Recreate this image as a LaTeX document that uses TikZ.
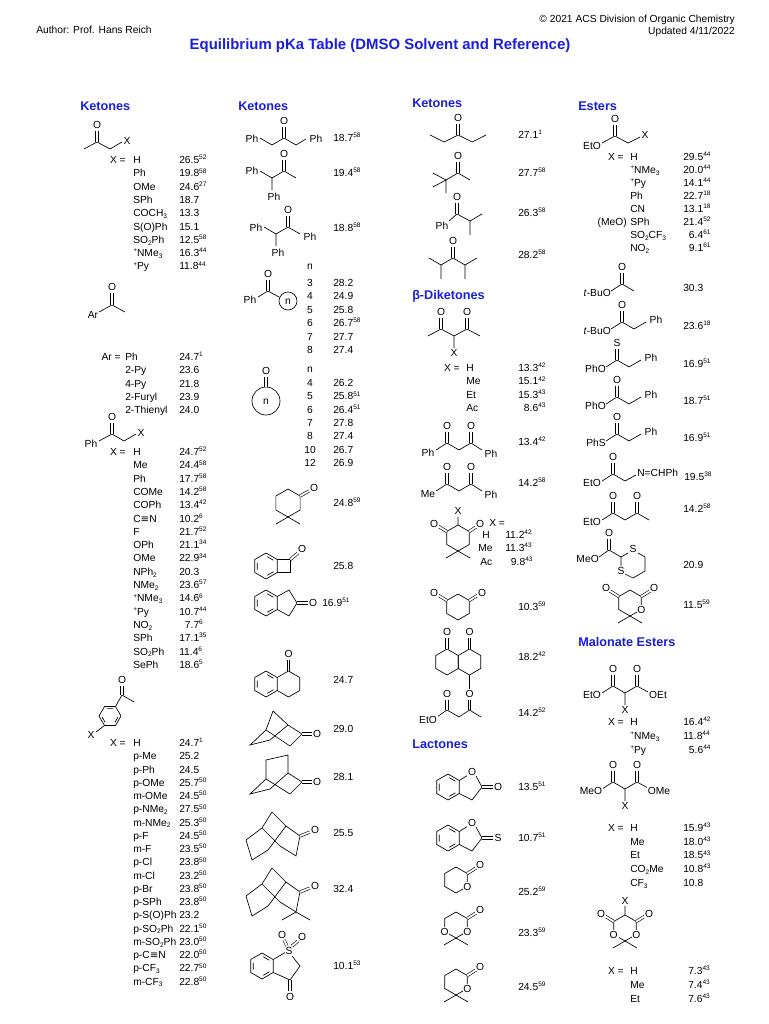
\documentclass[tikz,border=0pt]{standalone}
\usepackage{fontspec}
\setmainfont{Liberation Sans}
\newfontfamily\dejavu{DejaVu Sans}
\definecolor{hdrblue}{RGB}{25,30,225}
\newcommand\su[1]{{\fontsize{4.9}{5}\selectfont\raisebox{2.8pt}{#1}}}
\newcommand\dn[1]{\raisebox{-1.4pt}{\fontsize{4.9}{5}\selectfont #1}}
\newcommand\lab{\fontsize{7.7}{8.5}\selectfont}
\newcounter{nn}
\newcommand\T[4][lab]{\stepcounter{nn}\node[#1] (n\arabic{nn}) at (#2,#3) {#4};}
\newcommand\benz[3]{\draw[bd] (#1,#2)+(90:#3) -- +(30:#3) -- +(-30:#3) -- +(-90:#3) -- +(-150:#3) -- +(150:#3) -- cycle;
 \draw[bd] (#1,#2)+(82:{0.72*#3}) -- +(38:{0.72*#3}) +(-38:{0.72*#3}) -- +(-82:{0.72*#3}) +(-158:{0.72*#3}) -- +(158:{0.72*#3});}
\newcommand\hexa[3]{\draw[bd] (#1,#2)+(90:#3) -- +(30:#3) -- +(-30:#3) -- +(-90:#3) -- +(-150:#3) -- +(150:#3) -- cycle;}
\tikzset{
 lab/.style={anchor=mid west,inner sep=0pt,font=\lab},
 labe/.style={anchor=mid east,inner sep=0pt,font=\lab},
 labc/.style={anchor=mid,inner sep=0pt,font=\lab},
 atm/.style={anchor=mid,inner sep=0.6pt,font=\lab,fill=white},
 hdr/.style={anchor=mid west,inner sep=0pt,font=\fontsize{9.5}{11}\selectfont\bfseries,text=hdrblue},
 bd/.style={line width=0.5pt},
 dbl/.style={line width=0.45pt,double,double distance=1.4pt},
}
\begin{document}
\begin{tikzpicture}[x=0.75pt,y=-0.75pt]
\useasboundingbox (0,0) rectangle (768,1024);
% header
\T{36}{30}{Author: Prof. Hans Reich}
\T[labe]{735}{19}{© 2021 ACS Division of Organic Chemistry}
\T[labe]{735}{31}{Updated 4/11/2022}
\node[anchor=mid,inner sep=0pt,font=\fontsize{11.2}{13}\selectfont\bfseries,text=hdrblue] (title) at (380,46) {Equilibrium pKa Table (DMSO Solvent and Reference)};
\T[hdr]{80}{107}{Ketones}
\T[hdr]{238}{107}{Ketones}
\T[hdr]{412}{104}{Ketones}
\T[hdr]{578}{107}{Esters}
\T[hdr]{412}{296}{β-Diketones}
\T[hdr]{412}{745}{Lactones}
\T[hdr]{578}{643}{Malonate Esters}

%================ column 1
\draw[bd] (84,149)--(97,142)--(110,149)--(122,142);
\draw[dbl] (97,142)--(97,131);
\T[atm]{97}{125}{O}\T[atm]{127}{141}{X}
\T[labe]{126}{160}{X =}
\foreach \k/\l/\v in {0/H/26.5\su{52},1/Ph/19.8\su{58},2/OMe/24.6\su{27},3/SPh/18.7,4/COCH\dn{3}/13.3,5/S(O)Ph/15.1,6/SO\dn{2}Ph/12.5\su{58},7/\su{+}NMe\dn{3}/16.3\su{44},8/\su{+}Py/11.8\su{44}}
 {\T{133}{160+13.3*\k}{\l}\T{179}{160+13.3*\k}{\v}}
\begin{scope}[shift={(0,-6)}]
\draw[bd] (99,318)--(112,311)--(125,318);
\draw[dbl] (112,311)--(112,299);
\T[atm]{112}{293}{O}\T[atm]{93}{321}{Ar}
\end{scope}
\T[labe]{121}{357}{Ar =}
\foreach \k/\l/\v in {0/Ph/24.7\su{1},1/2-Py/23.6,2/4-Py/21.8,3/2-Furyl/23.9,4/2-Thienyl/24.0}
 {\T{125}{357+13.3*\k}{\l}\T{179}{357+13.3*\k}{\v}}
\begin{scope}[shift={(0,6)}]
\draw[bd] (99,435)--(112,428)--(124,435)--(136,428);
\draw[dbl] (112,428)--(112,417);
\T[atm]{112}{411}{O}\T[atm]{91}{438}{Ph}\T[atm]{141}{427}{X}
\end{scope}
\T[labe]{126}{452}{X =}
\foreach \k/\l/\v in {0/H/24.7\su{52},1/Me/24.4\su{58},2/Ph/17.7\su{58},3/COMe/14.2\su{58},4/COPh/13.4\su{42},5/C{\dejavu ≡}N/10.2\su{6},6/F/21.7\su{52},7/OPh/21.1\su{34},8/OMe/22.9\su{34},9/NPh\dn{2}/20.3,10/NMe\dn{2}/23.6\su{57},11/\su{+}NMe\dn{3}/14.6\su{6},12/\su{+}Py/10.7\su{44},13/NO\dn{2}/\phantom{0}7.7\su{6},14/SPh/17.1\su{35},15/SO\dn{2}Ph/11.4\su{6},16/SePh/18.6\su{5}}
 {\T{133}{452+13.3*\k}{\l}\T{179}{452+13.3*\k}{\v}}
% aryl ketone
\begin{scope}[shift={(0,-2)}]
\draw[bd] (110,718)+(0:11) -- +(60:11) -- +(120:11) -- +(180:11) -- +(240:11) -- +(300:11) -- cycle;
\draw[bd] (110,718)+(8:8) -- +(52:8) +(128:8) -- +(172:8) +(248:8) -- +(292:8);
\draw[bd] (115.5,708.5)--(122,697)--(134,704);
\draw[dbl] (122,697)--(122,688);
\T[atm]{122}{682}{O}
\draw[bd] (104.5,727.5)--(96,734);
\T[atm]{91}{737}{X}
\end{scope}
\T[labe]{126}{743}{X =}
\foreach \k/\l/\v in {0/H/24.7\su{1},1/p-Me/25.2,2/p-Ph/24.5,3/p-OMe/25.7\su{50},4/m-OMe/24.5\su{50},5/p-NMe\dn{2}/27.5\su{50},6/m-NMe\dn{2}/25.3\su{50},7/p-F/24.5\su{50},8/m-F/23.5\su{50},9/p-Cl/23.8\su{50},10/m-Cl/23.2\su{50},11/p-Br/23.8\su{50},12/p-SPh/23.8\su{50},13/p-S(O)Ph/23.2,14/p-SO\dn{2}Ph/22.1\su{50},15/m-SO\dn{2}Ph/23.0\su{50},16/p-C{\dejavu ≡}N/22.0\su{50},17/p-CF\dn{3}/22.7\su{50},18/m-CF\dn{3}/22.8\su{50}}
 {\T{133}{743+13.25*\k}{\l}\T{179}{743+13.25*\k}{\v}}

%================ column 2
\draw[bd] (260,138)--(272,145)--(284,138)--(296,145)--(306,139);
\draw[dbl] (284,138)--(284,127);
\T[atm]{284}{121}{O}\T[atm]{252}{139}{Ph}\T[atm]{316}{139}{Ph}\T{333}{138}{18.7\su{58}}
\draw[bd] (260,171)--(272,178)--(284,171)--(296,178) (272,178)--(272,190);
\draw[dbl] (284,171)--(284,160);
\T[atm]{284}{154}{O}\T[atm]{252}{171}{Ph}\T[atm]{274}{197}{Ph}\T{333}{173}{19.4\su{58}}
\draw[bd] (264,227)--(276,234)--(288,227)--(300,234) (276,234)--(276,246);
\draw[dbl] (288,227)--(288,216);
\T[atm]{288}{210}{O}\T[atm]{256}{228}{Ph}\T[atm]{310}{237}{Ph}\T[atm]{278}{253}{Ph}\T{333}{228}{18.8\su{58}}
% Ph-CO-ring
\draw[bd] (258,297)--(268,291)--(279,297);
\draw[dbl] (268,291)--(268,280);
\draw[bd] (288,301) circle (9);
\T[atm]{268}{274}{O}\T[atm]{250}{300}{Ph}\T[labc]{288}{301}{n}
\T[labc]{310}{266}{n}
\foreach \k/\l/\v in {0/3/28.2,1/4/24.9,2/5/25.8,3/6/26.7\su{58},4/7/27.7,5/8/27.4}
 {\T[labc]{310}{283+13.4*\k}{\l}\T{333}{283+13.4*\k}{\v}}
% cyclic ketone
\draw[bd] (266,401) circle (14);
\draw[dbl] (266,387)--(266,377);
\T[atm]{266}{371}{O}\T[labc]{266}{401}{n}
\T[labc]{310}{369}{n}
\foreach \k/\l/\v in {0/4/26.2,1/5/25.8\su{51},2/6/26.4\su{51},3/7/27.8,4/8/27.4,5/10/26.7,6/12/26.9}
 {\T[labc]{310}{383+13.3*\k}{\l}\T{333}{383+13.3*\k}{\v}}
% dimethylcyclohexanone
\begin{scope}[shift={(0,-19)}]
\hexa{288}{522}{14}
\draw[dbl] (300.1,515)--(309,510);
\T[atm]{314}{507}{O}
\draw[bd] (288,536)--(276,543) (288,536)--(300,543);
\T{333}{522}{24.8\su{59}}
\end{scope}
% benzocyclobutenone
\begin{scope}[shift={(0,-19)}]
\benz{266}{585}{13}
\draw[bd] (277.3,578.5)--(290.3,578.5)--(290.3,591.5)--(277.3,591.5);
\draw[dbl] (290.3,578.5)--(298,572);
\T[atm]{302}{568}{O}
\T{333}{585}{25.8}
\end{scope}
% 2-indanone
\begin{scope}[shift={(0,-23)}]
\benz{266}{626}{13}
\draw[bd] (277.3,619.5)--(289,613)--(297,626)--(289,639)--(277.3,632.5);
\draw[dbl] (297,626)--(308,626);
\T[atm]{313}{626}{O}
\T{322}{626}{16.9\su{51}}
\end{scope}
% tetralone
\begin{scope}[shift={(0,-8)}]
\benz{266}{692}{13}
\draw[bd] (277.3,685.5)--(288.5,679)--(299.8,685.5)--(299.8,698.5)--(288.5,705)--(277.3,698.5);
\draw[dbl] (288.5,679)--(288.5,668);
\T[atm]{288.5}{662}{O}
\T{333}{688}{24.7}
\end{scope}
% norbornanone
\begin{scope}[shift={(0,-11)}]
\draw[bd] (273,722)--(266,741) (273,722)--(288,736)--(302,745)--(290,757)--(266,741)--(250,756)--(270,751)--(288,736);
\draw[dbl] (302,745)--(312,745);
\T[atm]{317}{745}{O}
\T{333}{740}{29.0}
\end{scope}
% bicyclo[2.2.2]octanone
\begin{scope}[shift={(0,-9)}]
\draw[bd] (266,788)--(266,769)--(288,764)--(288,782)--(302,791)--(290,803)--(266,788)--(250,803)--(270,798)--(288,782);
\draw[dbl] (302,791)--(312,791);
\T[atm]{317}{791}{O}
\T{333}{786}{28.1}
\end{scope}
% bicyclo[3.3.1]nonanone
\draw[bd] (272,812)--(262,828)--(246,840)--(252,860)--(268,850)--(286,826)--(272,812) (262,828)--(280,846)--(296,856)--(300,836)--(286,826);
\draw[dbl] (300,836)--(310,832);
\T[atm]{315}{830}{O}
\T{333}{833}{25.5}
% 32.4
\begin{scope}[shift={(0,8)}]
\draw[bd] (272,860)--(262,876)--(246,888)--(252,908)--(268,898)--(286,874)--(272,860) (262,876)--(280,894)--(296,904)--(300,884)--(286,874) (296,904)--(282,912) (296,904)--(310,912);
\draw[dbl] (300,884)--(310,880);
\T[atm]{315}{878}{O}
\T{333}{881}{32.4}
\end{scope}
% sulfone
\begin{scope}[shift={(0,4)}]
\benz{262}{962}{13}
\draw[bd] (273.3,955.5)--(286,948) (292,952)--(300,962)--(290,976)--(273.3,968.5);
\draw[dbl] (290,976)--(290,987);
\T[atm]{290}{993}{O}
\T[atm]{289}{947}{S}
\draw[dbl] (287,942)--(284,936) (292,942)--(298,937);
\T[atm]{282}{931}{O}\T[atm]{302}{933}{O}
\T{333}{962}{10.1\su{53}}
\end{scope}

%================ column 3
\draw[bd] (430,135)--(444,142)--(458,135)--(472,142)--(486,135);
\draw[dbl] (458,135)--(458,124);
\T[atm]{458}{118}{O}\T{518}{135}{27.1\su{1}}
\draw[bd] (446,180)--(433,173) (446,180)--(433,187) (446,180)--(446,193) (446,180)--(458,173)--(470,180);
\draw[dbl] (458,173)--(458,162);
\T[atm]{458}{156}{O}\T{518}{173}{27.7\su{58}}
\draw[bd] (449,221)--(457,214)--(470,221)--(482,214) (470,221)--(470,235);
\draw[dbl] (457,214)--(457,203);
\T[atm]{457}{197}{O}\T[atm]{442}{226}{Ph}\T{518}{213}{26.3\su{58}}
\draw[bd] (429,258)--(441,265)--(453,258)--(465,265)--(477,258) (441,265)--(441,279) (465,265)--(465,279);
\draw[dbl] (453,258)--(453,247);
\T[atm]{453}{241}{O}\T{518}{255}{28.2\su{58}}
% acac
\begin{scope}[shift={(0,-5)}]
\draw[bd] (428,341)--(441,334)--(454,341)--(467,334)--(480,341) (454,341)--(454,353);
\draw[dbl] (441,334)--(441,323) (467,334)--(467,323);
\T[atm]{441}{317}{O}\T[atm]{467}{317}{O}\T[atm]{454}{358}{X}
\end{scope}
\T[labe]{460}{368}{X =}
\foreach \k/\l/\v in {0/H/13.3\su{42},1/Me/15.1\su{42},2/Et/15.3\su{43},3/Ac/\phantom{0}8.6\su{43}}
 {\T{466}{368+13.3*\k}{\l}\T{518}{368+13.3*\k}{\v}}
\begin{scope}[shift={(0,6)}]
\draw[bd] (436,444)--(447,437)--(459,444)--(471,437)--(482,444);
\draw[dbl] (447,437)--(447,426) (471,437)--(471,426);
\T[atm]{447}{420}{O}\T[atm]{471}{420}{O}\T[atm]{428}{447}{Ph}\T[atm]{491}{448}{Ph}\T{518}{436}{13.4\su{42}}
\end{scope}
\begin{scope}[shift={(0,7)}]
\draw[bd] (436,484)--(447,477)--(459,484)--(471,477)--(482,484);
\draw[dbl] (447,477)--(447,466) (471,477)--(471,466);
\T[atm]{447}{460}{O}\T[atm]{471}{460}{O}\T[atm]{428}{487}{Me}\T[atm]{491}{488}{Ph}\T{518}{476}{14.2\su{58}}
\end{scope}
% dimedone
\hexa{458}{538}{13}
\draw[bd] (458,525)--(458,517) (458,551)--(446,558) (458,551)--(470,558);
\draw[dbl] (446.7,531.5)--(438,526) (469.3,531.5)--(476,527);
\T[atm]{458}{511}{X}\T[atm]{434}{524}{O}\T[atm]{480}{524}{O}
\T{489}{523}{X =}
\T{482}{535}{H}\T{478}{548}{Me}\T{480}{562}{Ac}
\T{505}{535}{11.2\su{42}}\T{505}{548}{11.3\su{43}}\T{505}{562}{\phantom{0}9.8\su{43}}
% cyclohexanedione
\hexa{458}{607}{13}
\draw[dbl] (446.7,600.5)--(438,595) (469.3,600.5)--(478,595);
\T[atm]{434}{593}{O}\T[atm]{482}{593}{O}
\T{518}{607}{10.3\su{59}}
% octalindione + acetoacetate
\hexa{447}{662}{13}\hexa{469.5}{662}{13}
\draw[dbl] (447,649)--(447,638) (469.5,649)--(469.5,638);
\T[atm]{447}{632}{O}\T[atm]{469.5}{632}{O}
\draw[bd] (469.5,675)--(469.5,689);
\T[atm]{469.5}{694}{O}
\draw[dbl] (469.5,700)--(469.5,710);
\draw[bd] (437,717)--(447,710)--(459,717)--(469.5,710)--(481,717);
\draw[dbl] (447,710)--(447,700);
\T[atm]{447}{694}{O}\T[atm]{428}{720}{EtO}
\T{518}{657}{18.2\su{42}}\T{518}{713}{14.2\su{52}}
% lactones
\begin{scope}[shift={(0,-10)}]
\benz{448}{797}{13}
\draw[bd] (459.3,790.5)--(468,785) (476,786)--(482,797)--(472,810)--(459.3,803.5);
\draw[dbl] (482,797)--(493,797);
\T[atm]{472}{782}{O}\T[atm]{498}{797}{O}\T{518}{797}{13.5\su{51}}
\end{scope}
\begin{scope}[shift={(0,-2)}]
\benz{448}{840}{13}
\draw[bd] (459.3,833.5)--(468,828) (476,829)--(482,840)--(472,853)--(459.3,846.5);
\draw[dbl] (482,840)--(493,840);
\T[atm]{472}{825}{O}\T[atm]{498}{840}{S}\T{518}{840}{10.7\su{51}}
\end{scope}
\begin{scope}[shift={(0,-22)}]
\hexa{456}{902}{13}
\draw[dbl] (467.3,895.5)--(476,890);
\T[atm]{480}{887}{O}\T[atm]{467.3}{908.5}{O}\T{518}{914}{25.2\su{59}}
\end{scope}
\begin{scope}[shift={(0,-19)}]
\hexa{456}{944}{13}
\draw[dbl] (467.3,937.5)--(476,932);
\draw[bd] (456,957)--(444,964) (456,957)--(468,964);
\T[atm]{480}{929}{O}\T[atm]{467.3}{950.5}{O}\T[atm]{444.7}{950.5}{O}\T{518}{952}{23.3\su{59}}
\end{scope}
\begin{scope}[shift={(0,-6)}]
\hexa{456}{988}{13}
\draw[dbl] (467.3,981.5)--(476,976);
\draw[bd] (456,1001)--(444,1008) (456,1001)--(468,1008);
\T[atm]{480}{973}{O}\T[atm]{467.3}{994.5}{O}\T{518}{993}{24.5\su{59}}
\end{scope}

%================ column 4
\draw[bd] (602,143)--(615,136)--(628,143)--(640,137);
\draw[dbl] (615,136)--(615,125);
\T[atm]{615}{119}{O}\T[atm]{592}{146}{EtO}\T[atm]{645}{135}{X}
\T[labe]{624}{157}{X =}
\foreach \k/\l/\v in {0/H/29.5\su{44},1/\su{+}NMe\dn{3}/20.0\su{44},2/\su{+}Py/14.1\su{44},3/Ph/22.7\su{18},4/CN/13.1\su{18},5/SPh/21.4\su{52},6/SO\dn{2}CF\dn{3}/\phantom{0}6.4\su{61},7/NO\dn{2}/\phantom{0}9.1\su{61}}
 {\T{630}{157+13*\k}{\l}\T{683}{157+13*\k}{\v}}
\T[labe]{627}{222}{(MeO)}
\begin{scope}[shift={(0,-8)}]
\draw[bd] (611,299)--(622,292)--(634,299);
\draw[dbl] (622,292)--(622,281);
\T[atm]{622}{275}{O}\T[labe]{611}{301}{\textit{t}-BuO}\T{683}{296}{30.3}
\end{scope}
\begin{scope}[shift={(0,-10)}]
\draw[bd] (611,339)--(622,332)--(634,339)--(646,332);
\draw[dbl] (622,332)--(622,321);
\T[atm]{622}{315}{O}\T[labe]{611}{341}{\textit{t}-BuO}\T[atm]{656}{330}{Ph}\T{683}{336}{23.6\su{18}}
\end{scope}
\begin{scope}[shift={(0,-9)}]
\draw[bd] (606,376)--(617,369)--(629,376)--(641,369);
\draw[dbl] (617,369)--(617,358);
\T[atm]{617}{352}{S}\T[labe]{606}{378}{PhO}\T[atm]{651}{367}{Ph}\T{683}{373}{16.9\su{51}}
\end{scope}
\begin{scope}[shift={(0,-10)}]
\draw[bd] (606,414)--(617,407)--(629,414)--(641,407);
\draw[dbl] (617,407)--(617,396);
\T[atm]{617}{390}{O}\T[labe]{606}{416}{PhO}\T[atm]{651}{405}{Ph}\T{683}{411}{18.7\su{51}}
\end{scope}
\begin{scope}[shift={(0,-11)}]
\draw[bd] (606,452)--(617,445)--(629,452)--(641,445);
\draw[dbl] (617,445)--(617,434);
\T[atm]{617}{428}{O}\T[labe]{606}{454}{PhS}\T[atm]{651}{443}{Ph}\T{683}{449}{16.9\su{51}}
\end{scope}
\begin{scope}[shift={(0,-14)}]
\draw[bd] (602,495)--(613,488)--(625,495)--(636,489);
\draw[dbl] (613,488)--(613,477);
\T[atm]{613}{471}{O}\T[atm]{592}{497}{EtO}\T{637}{487}{N=CHPh}\T{684}{491}{19.5\su{38}}
\end{scope}
\begin{scope}[shift={(0,-13)}]
\draw[bd] (602,533)--(613,526)--(625,533)--(637,526)--(649,533);
\draw[dbl] (613,526)--(613,515) (637,526)--(637,515);
\T[atm]{613}{509}{O}\T[atm]{637}{509}{O}\T[atm]{592}{535}{EtO}\T{683}{522}{14.2\su{58}}
\end{scope}
% dithiane
\begin{scope}[shift={(0,-13)}]
\draw[bd] (599,570)--(609,563)--(621,570)--(628,566) (638,566)--(645,570)--(645,584)--(633,591)--(625,587) (621,579)--(621,570);
\draw[dbl] (609,563)--(609,552);
\T[atm]{609}{546}{O}\T[labe]{599}{572}{MeO}\T[atm]{633}{562}{S}\T[atm]{621}{584}{S}\T{683}{578}{20.9}
\end{scope}
% dimethyl lactone
\begin{scope}[shift={(0,-9)}]
\hexa{630}{612}{13}
\draw[dbl] (618.7,605.5)--(610,600) (641.3,605.5)--(650,600);
\draw[bd] (630,625)--(618,632) (630,625)--(642,632);
\T[atm]{606}{597}{O}\T[atm]{654}{597}{O}\T[atm]{641.3}{618.5}{O}\T{683}{614}{11.5\su{59}}
\end{scope}
% diethyl malonate
\begin{scope}[shift={(0,-7)}]
\draw[bd] (602,700)--(613,693)--(625,700)--(637,693)--(648,699) (625,700)--(625,712);
\draw[dbl] (613,693)--(613,682) (637,693)--(637,682);
\T[atm]{613}{676}{O}\T[atm]{637}{676}{O}\T[atm]{592}{702}{EtO}\T[atm]{658}{702}{OEt}\T[atm]{625}{717}{X}
\end{scope}
\T[labe]{624}{722}{X =}
\foreach \k/\l/\v in {0/H/16.4\su{42},1/\su{+}NMe\dn{3}/11.8\su{44},2/\su{+}Py/\phantom{0}5.6\su{44}}
 {\T{630}{722+14*\k}{\l}\T{683}{722+14*\k}{\v}}
% dimethyl malonate
\begin{scope}[shift={(0,-3)}]
\draw[bd] (602,792)--(613,785)--(625,792)--(637,785)--(648,791) (625,792)--(625,804);
\draw[dbl] (613,785)--(613,774) (637,785)--(637,774);
\T[atm]{613}{768}{O}\T[atm]{637}{768}{O}\T[atm]{591}{794}{MeO}\T[atm]{659}{794}{OMe}\T[atm]{625}{809}{X}
\end{scope}
\T[labe]{624}{828}{X =}
\foreach \k/\l/\v in {0/H/15.9\su{43},1/Me/18.0\su{43},2/Et/18.5\su{43},3/CO\dn{2}Me/10.8\su{43},4/CF\dn{3}/10.8}
 {\T{630}{828+13.7*\k}{\l}\T{683}{828+13.7*\k}{\v}}
% Meldrum
\begin{scope}[shift={(0,4)}]
\hexa{625}{924}{13}
\draw[bd] (625,911)--(625,902) (625,937)--(613,944) (625,937)--(637,944);
\draw[dbl] (613.7,917.5)--(605,912) (636.3,917.5)--(645,912);
\T[atm]{625}{897}{X}\T[atm]{601}{910}{O}\T[atm]{649}{910}{O}\T[atm]{613.7}{930.5}{O}\T[atm]{636.3}{930.5}{O}
\end{scope}
\T[labe]{624}{971}{X =}
\foreach \k/\l/\v in {0/H/7.3\su{43},1/Me/7.4\su{43},2/Et/7.6\su{43}}
 {\T{630}{971+14*\k}{\l}\T{688}{971+14*\k}{\v}}
\end{tikzpicture}
\end{document}
